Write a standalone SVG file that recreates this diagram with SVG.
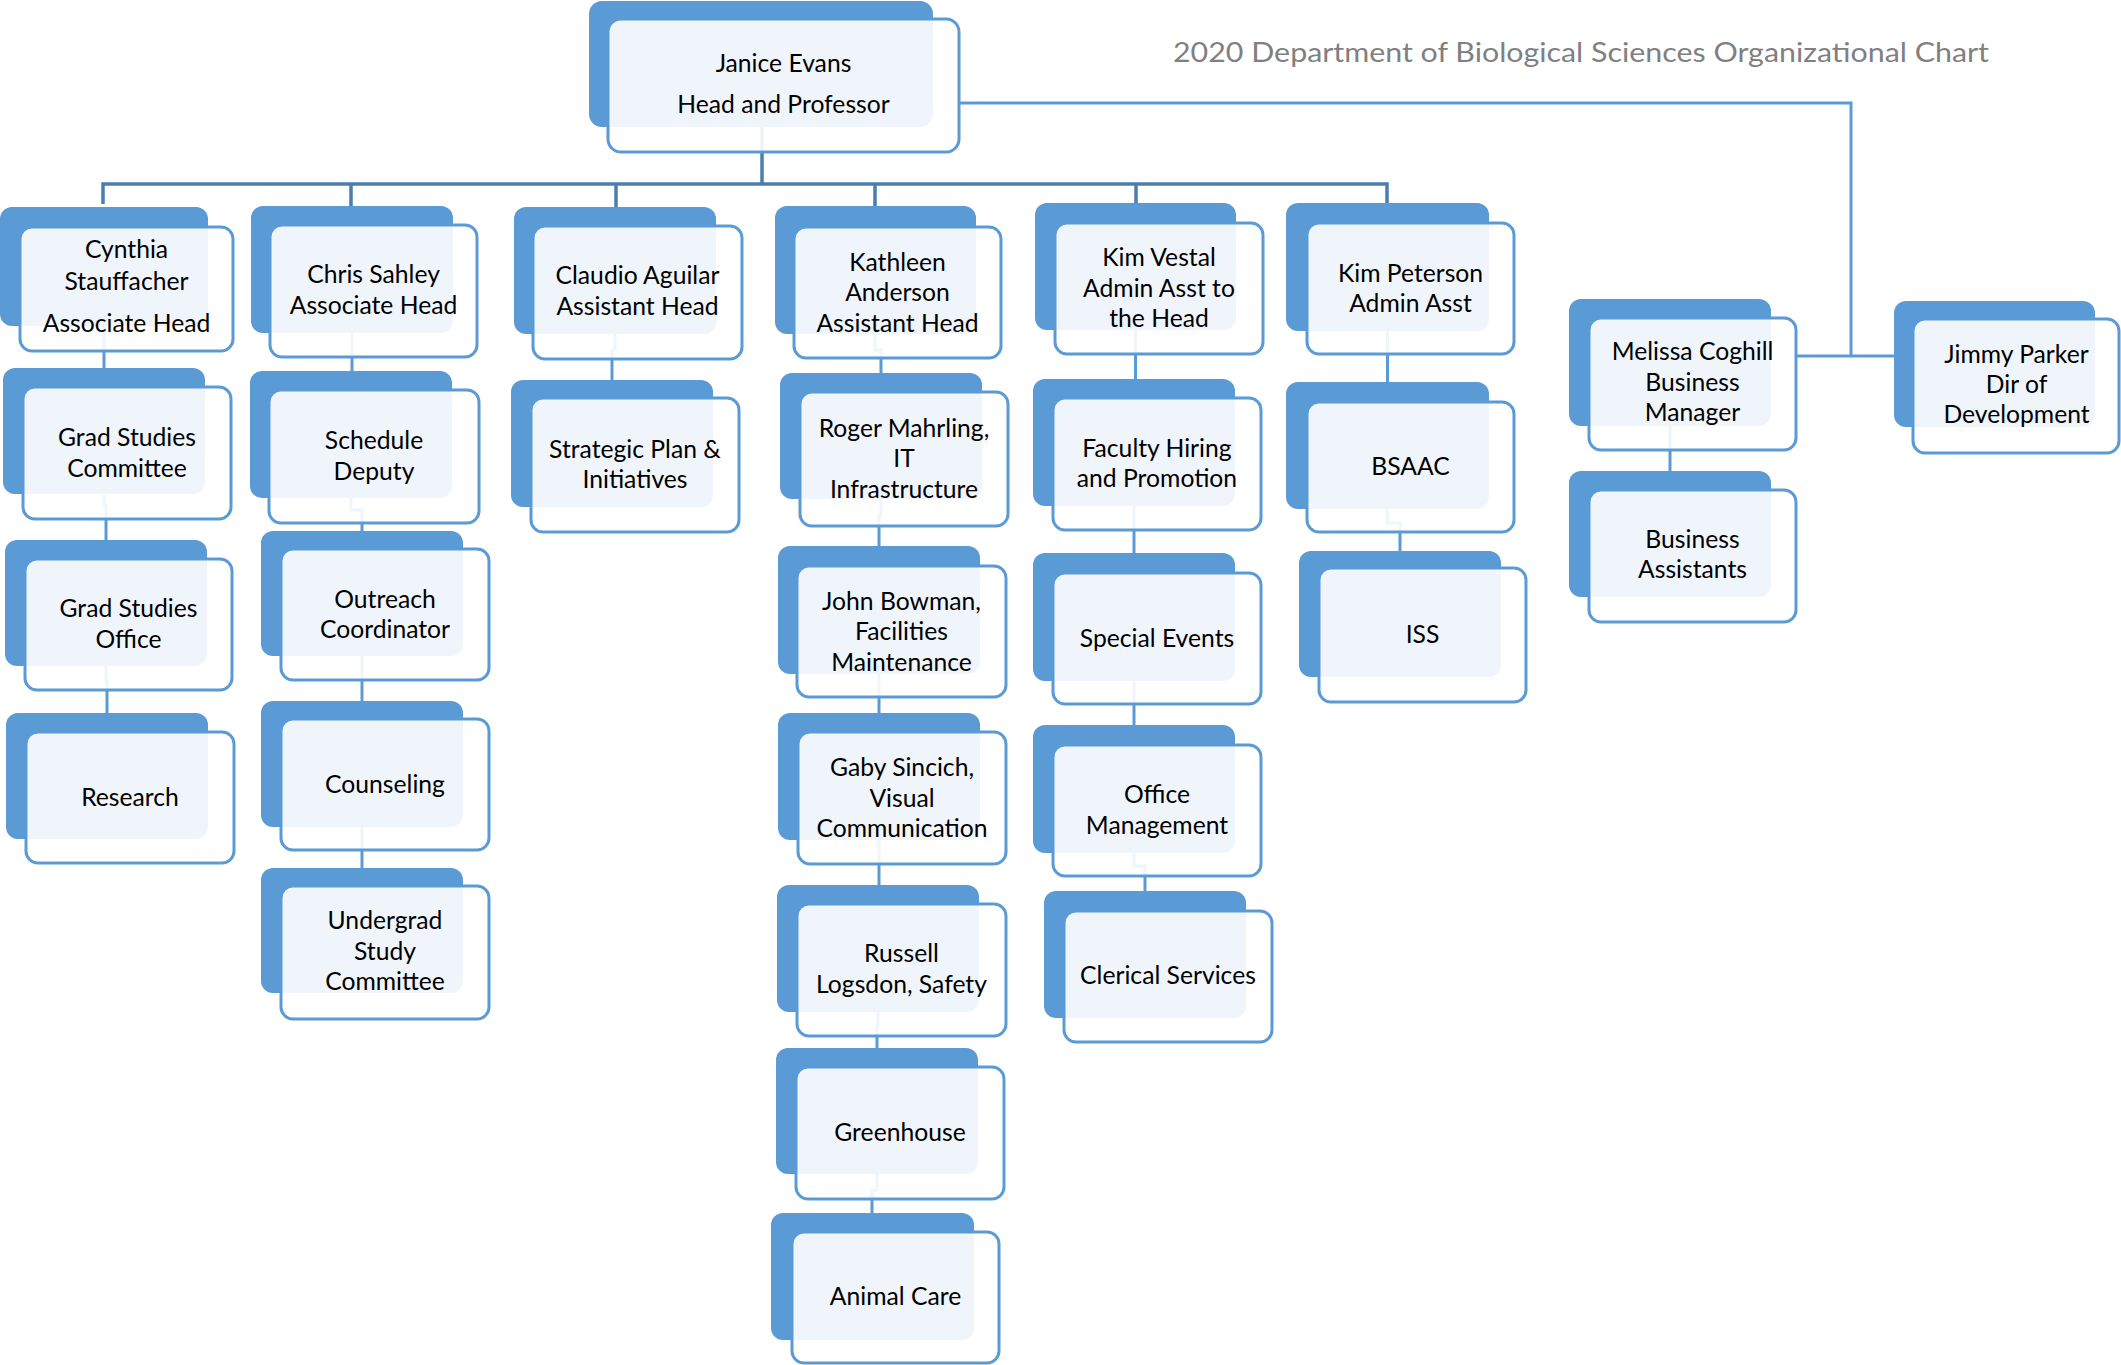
<svg xmlns="http://www.w3.org/2000/svg" width="2121" height="1365" viewBox="0 0 2121 1365">
<style>
.back{fill:#5B9BD5}
.front{fill:#ffffff;fill-opacity:0.9;stroke:#5B9BD5;stroke-width:3}
.lbl{font-family:Lato,"Liberation Sans",sans-serif;font-size:24.7px;fill:#000;text-anchor:middle}
.title{font-family:Lato,"Liberation Sans",sans-serif;font-size:27px;fill:#808080}
.top{fill:none;stroke:#4A7EB0;stroke-width:3.5}
.link{fill:none;stroke:#5B9BD5;stroke-width:3}
</style>
<rect width="2121" height="1365" fill="#ffffff"/>
<text class="title" x="1173" y="62" textLength="816" lengthAdjust="spacingAndGlyphs">2020 Department of Biological Sciences Organizational Chart</text>
<g id="connectors">
<path class="top" d="M762 127 V184"/>
<path class="top" d="M103 204 V184 H1387 V204"/>
<path class="top" d="M351 184 V206 M616 184 V207 M875 184 V206 M1136 184 V203"/>
<path class="link" d="M959 103 H1851 V356"/>
<path class="link" d="M1796 356 H1894"/>
<path class="link" d="M104 326 V368"/>
<path class="link" d="M104 494 V505 H106 V540"/>
<path class="link" d="M106 666 V680 H107 V713"/>
<path class="link" d="M352 333 V371"/>
<path class="link" d="M351 498 V510 H362 V531"/>
<path class="link" d="M362 656 V701"/>
<path class="link" d="M362 827 V868"/>
<path class="link" d="M615 334 V350 H612 V380"/>
<path class="link" d="M875 334 V350 H881 V373"/>
<path class="link" d="M881 499 V515 H879 V546"/>
<path class="link" d="M879 674 V713"/>
<path class="link" d="M879 840 V885"/>
<path class="link" d="M878 1012 V1025 H877 V1048"/>
<path class="link" d="M877 1174 V1190 H872 V1213"/>
<path class="link" d="M1135.5 330 V379"/>
<path class="link" d="M1134 506 V553"/>
<path class="link" d="M1134 681 V725"/>
<path class="link" d="M1134 853 V866 H1145 V891"/>
<path class="link" d="M1387.5 331 V382"/>
<path class="link" d="M1387.5 509 V523 H1400 V551"/>
<path class="link" d="M1670 426 V471"/>
</g>
<g id="n-janice"><rect class="back" x="589" y="1" width="344" height="126" rx="13"/><rect class="front" x="608" y="19" width="351" height="133" rx="13"/><text class="lbl" x="783.5" y="72">Janice Evans</text><text class="lbl" x="783.5" y="113">Head and Professor</text></g>
<g id="n-cynthia"><rect class="back" x="0" y="207" width="208" height="119" rx="12"/><rect class="front" x="20" y="227" width="213" height="124" rx="12"/><text class="lbl" x="126.5" y="258">Cynthia</text><text class="lbl" x="126.5" y="290">Stauffacher</text><text class="lbl" x="126.5" y="332">Associate Head</text></g>
<g id="n-chris"><rect class="back" x="251" y="206" width="202" height="127" rx="12"/><rect class="front" x="270" y="225" width="207" height="132" rx="12"/><text class="lbl" x="373.5" y="283">Chris Sahley</text><text class="lbl" x="373.5" y="314">Associate Head</text></g>
<g id="n-claudio"><rect class="back" x="514" y="207" width="202" height="127" rx="12"/><rect class="front" x="533" y="226" width="209" height="133" rx="12"/><text class="lbl" x="637.5" y="284">Claudio Aguilar</text><text class="lbl" x="637.5" y="315">Assistant Head</text></g>
<g id="n-kathleen"><rect class="back" x="775" y="206" width="201" height="128" rx="12"/><rect class="front" x="794" y="227" width="207" height="131" rx="12"/><text class="lbl" x="897.5" y="270.5">Kathleen</text><text class="lbl" x="897.5" y="301">Anderson</text><text class="lbl" x="897.5" y="332">Assistant Head</text></g>
<g id="n-vestal"><rect class="back" x="1035" y="203" width="201" height="127" rx="12"/><rect class="front" x="1055" y="223" width="208" height="131" rx="12"/><text class="lbl" x="1159" y="266">Kim Vestal</text><text class="lbl" x="1159" y="296.5">Admin Asst to</text><text class="lbl" x="1159" y="327">the Head</text></g>
<g id="n-peterson"><rect class="back" x="1286" y="203" width="203" height="128" rx="12"/><rect class="front" x="1307" y="223" width="207" height="131" rx="12"/><text class="lbl" x="1410.5" y="281.5">Kim Peterson</text><text class="lbl" x="1410.5" y="312">Admin Asst</text></g>
<g id="n-melissa"><rect class="back" x="1569" y="299" width="202" height="127" rx="12"/><rect class="front" x="1589" y="318" width="207" height="132" rx="12"/><text class="lbl" x="1692.5" y="360">Melissa Coghill</text><text class="lbl" x="1692.5" y="391">Business</text><text class="lbl" x="1692.5" y="421">Manager</text></g>
<g id="n-jimmy"><rect class="back" x="1894" y="301" width="201" height="126" rx="12"/><rect class="front" x="1913" y="319" width="206" height="134" rx="12"/><text class="lbl" x="2016.5" y="363">Jimmy Parker</text><text class="lbl" x="2016.5" y="393">Dir of</text><text class="lbl" x="2016.5" y="423">Development</text></g>
<g id="n-gsc"><rect class="back" x="3" y="368" width="202" height="126" rx="12"/><rect class="front" x="23" y="387" width="208" height="132" rx="12"/><text class="lbl" x="127" y="446">Grad Studies</text><text class="lbl" x="127" y="476.5">Committee</text></g>
<g id="n-gso"><rect class="back" x="5" y="540" width="202" height="126" rx="12"/><rect class="front" x="25" y="559" width="207" height="131" rx="12"/><text class="lbl" x="128.5" y="617">Grad Studies</text><text class="lbl" x="128.5" y="647.5">Office</text></g>
<g id="n-research"><rect class="back" x="6" y="713" width="202" height="126" rx="12"/><rect class="front" x="26" y="732" width="208" height="131" rx="12"/><text class="lbl" x="130" y="806">Research</text></g>
<g id="n-schedule"><rect class="back" x="250" y="371" width="202" height="127" rx="12"/><rect class="front" x="269" y="390" width="210" height="133" rx="12"/><text class="lbl" x="374" y="449">Schedule</text><text class="lbl" x="374" y="480">Deputy</text></g>
<g id="n-outreach"><rect class="back" x="261" y="531" width="202" height="125" rx="12"/><rect class="front" x="281" y="549" width="208" height="131" rx="12"/><text class="lbl" x="385" y="607.5">Outreach</text><text class="lbl" x="385" y="638">Coordinator</text></g>
<g id="n-counseling"><rect class="back" x="261" y="701" width="202" height="126" rx="12"/><rect class="front" x="281" y="719" width="208" height="131" rx="12"/><text class="lbl" x="385" y="793">Counseling</text></g>
<g id="n-undergrad"><rect class="back" x="261" y="868" width="202" height="125" rx="12"/><rect class="front" x="281" y="886" width="208" height="133" rx="12"/><text class="lbl" x="385" y="929">Undergrad</text><text class="lbl" x="385" y="959.5">Study</text><text class="lbl" x="385" y="990">Committee</text></g>
<g id="n-strategic"><rect class="back" x="511" y="380" width="202" height="127" rx="12"/><rect class="front" x="531" y="398" width="208" height="134" rx="12"/><text class="lbl" x="635" y="457.5">Strategic Plan &amp;</text><text class="lbl" x="635" y="488">Initiatives</text></g>
<g id="n-roger"><rect class="back" x="780" y="373" width="202" height="126" rx="12"/><rect class="front" x="800" y="392" width="208" height="134" rx="12"/><text class="lbl" x="904" y="436.5">Roger Mahrling,</text><text class="lbl" x="904" y="467">IT</text><text class="lbl" x="904" y="497.5">Infrastructure</text></g>
<g id="n-john"><rect class="back" x="778" y="546" width="202" height="128" rx="12"/><rect class="front" x="797" y="566" width="209" height="131" rx="12"/><text class="lbl" x="901.5" y="609.5">John Bowman,</text><text class="lbl" x="901.5" y="640">Facilities</text><text class="lbl" x="901.5" y="670.5">Maintenance</text></g>
<g id="n-gaby"><rect class="back" x="778" y="713" width="202" height="127" rx="12"/><rect class="front" x="798" y="732" width="208" height="132" rx="12"/><text class="lbl" x="902" y="776">Gaby Sincich,</text><text class="lbl" x="902" y="806.5">Visual</text><text class="lbl" x="902" y="837">Communication</text></g>
<g id="n-russell"><rect class="back" x="777" y="885" width="202" height="127" rx="12"/><rect class="front" x="797" y="904" width="209" height="132" rx="12"/><text class="lbl" x="901.5" y="962">Russell</text><text class="lbl" x="901.5" y="993">Logsdon, Safety</text></g>
<g id="n-greenhouse"><rect class="back" x="776" y="1048" width="202" height="126" rx="12"/><rect class="front" x="796" y="1067" width="208" height="132" rx="12"/><text class="lbl" x="900" y="1141">Greenhouse</text></g>
<g id="n-animal"><rect class="back" x="771" y="1213" width="203" height="127" rx="12"/><rect class="front" x="792" y="1232" width="207" height="131" rx="12"/><text class="lbl" x="895.5" y="1305">Animal Care</text></g>
<g id="n-faculty"><rect class="back" x="1033" y="379" width="202" height="127" rx="12"/><rect class="front" x="1053" y="398" width="208" height="132" rx="12"/><text class="lbl" x="1157" y="456.5">Faculty Hiring</text><text class="lbl" x="1157" y="487">and Promotion</text></g>
<g id="n-special"><rect class="back" x="1033" y="553" width="202" height="128" rx="12"/><rect class="front" x="1053" y="573" width="208" height="131" rx="12"/><text class="lbl" x="1157" y="647">Special Events</text></g>
<g id="n-office"><rect class="back" x="1033" y="725" width="202" height="128" rx="12"/><rect class="front" x="1053" y="745" width="208" height="131" rx="12"/><text class="lbl" x="1157" y="803">Office</text><text class="lbl" x="1157" y="834">Management</text></g>
<g id="n-clerical"><rect class="back" x="1044" y="891" width="202" height="127" rx="12"/><rect class="front" x="1064" y="911" width="208" height="131" rx="12"/><text class="lbl" x="1168" y="984">Clerical Services</text></g>
<g id="n-bsaac"><rect class="back" x="1286" y="382" width="203" height="127" rx="12"/><rect class="front" x="1307" y="402" width="207" height="130" rx="12"/><text class="lbl" x="1410.5" y="475">BSAAC</text></g>
<g id="n-iss"><rect class="back" x="1299" y="551" width="202" height="126" rx="12"/><rect class="front" x="1319" y="568" width="207" height="134" rx="12"/><text class="lbl" x="1422.5" y="642.5">ISS</text></g>
<g id="n-busasst"><rect class="back" x="1569" y="471" width="202" height="126" rx="12"/><rect class="front" x="1589" y="490" width="207" height="132" rx="12"/><text class="lbl" x="1692.5" y="547.5">Business</text><text class="lbl" x="1692.5" y="578">Assistants</text></g>
</svg>
